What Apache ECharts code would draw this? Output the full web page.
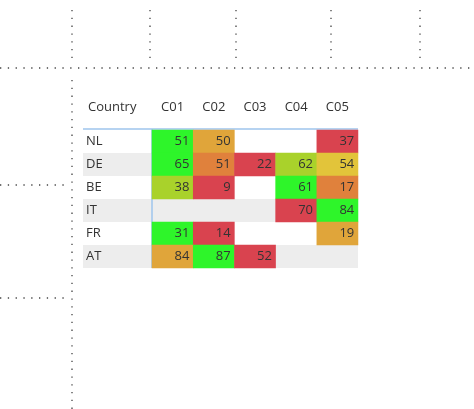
<!DOCTYPE html><html><head><meta charset="utf-8">
<script src="https://cdn.jsdelivr.net/npm/echarts@6/dist/echarts.min.js"></script>
<style>html,body{margin:0;padding:0;background:#fff}#c{width:474px;height:409px}</style></head><body><div id="c"></div>
<script>
(function(){
const countries=['NL','DE','BE','IT','FR','AT'];
const columns=['C01','C02','C03','C04','C05'];
const valNL=[51,50,null,null,37];
const valDE=[65,51,22,62,54];
const valBE=[38,9,null,61,17];
const valIT=[null,null,null,70,84];
const valFR=[31,14,null,null,19];
const valAT=[84,87,52,null,null];
const lvNL=[5,2,null,null,0];
const lvDE=[5,1,0,4,3];
const lvBE=[4,0,null,5,1];
const lvIT=[null,null,null,0,5];
const lvFR=[5,0,null,null,2];
const lvAT=[2,5,0,null,null];
const vals=[valNL,valDE,valBE,valIT,valFR,valAT];
const lvls=[lvNL,lvDE,lvBE,lvIT,lvFR,lvAT];
const palette=['#d9434f','#e0813c','#e0a53a','#e2c43a','#a9d22b','#2ef52a'];
const data=[];
vals.forEach((row,r)=>row.forEach((v,c)=>{if(v!==null)data.push({value:[c,r,v],itemStyle:{color:palette[lvls[r][c]]}});}));
const chart=echarts.init(document.getElementById('c'));
const font='"Open Sans", sans-serif';
chart.setOption({
 animation:false,
 grid:{left:152,right:116,top:130,height:138},
 xAxis:{type:'category',data:columns,position:'top',axisLine:{show:false},axisTick:{show:false},
   axisLabel:{color:'#333',fontSize:13,fontFamily:font,margin:16},splitLine:{show:false}},
 yAxis:{type:'category',data:countries,inverse:true,axisLine:{show:false},axisTick:{show:false},
   axisLabel:{color:'#333',fontSize:13,fontFamily:font,align:'left',margin:66},splitLine:{show:false}},
 series:[{type:'heatmap',data:data,
   label:{show:true,position:'insideRight',distance:4,color:'#333',fontSize:13,fontFamily:font,formatter:p=>p.value[2]},
   itemStyle:{borderWidth:0}}]
});
const y0=130;
const g=[];
countries.forEach((c,i)=>{if(i%2===1)g.push({type:'rect',z:-1,shape:{x:83,y:y0+23*i,width:275,height:23},style:{fill:'#ededed'}});});
g.push({type:'text',style:{text:'Country',x:88,y:107,fill:'#333',font:'13px '+font,verticalAlign:'middle'}});
g.push({type:'line',shape:{x1:83,y1:129,x2:358,y2:129},style:{stroke:'#9ec5ec',lineWidth:1.5}});
g.push({type:'line',shape:{x1:152,y1:129,x2:152,y2:268},style:{stroke:'#9ec5ec',lineWidth:1.5}});
const dot={stroke:'#444',lineWidth:1.3,lineDash:[1.3,6.5]};
[72,150,236,331,420].forEach(x=>g.push({type:'line',silent:true,shape:{x1:x,y1:10,x2:x,y2:62},style:dot}));
g.push({type:'line',shape:{x1:0,y1:68,x2:474,y2:68},style:dot});
g.push({type:'line',shape:{x1:72,y1:80,x2:72,y2:409},style:dot});
g.push({type:'line',shape:{x1:0,y1:185,x2:65,y2:185},style:dot});
g.push({type:'line',shape:{x1:0,y1:298,x2:65,y2:298},style:dot});
chart.setOption({graphic:g});
})();
</script></body></html>
